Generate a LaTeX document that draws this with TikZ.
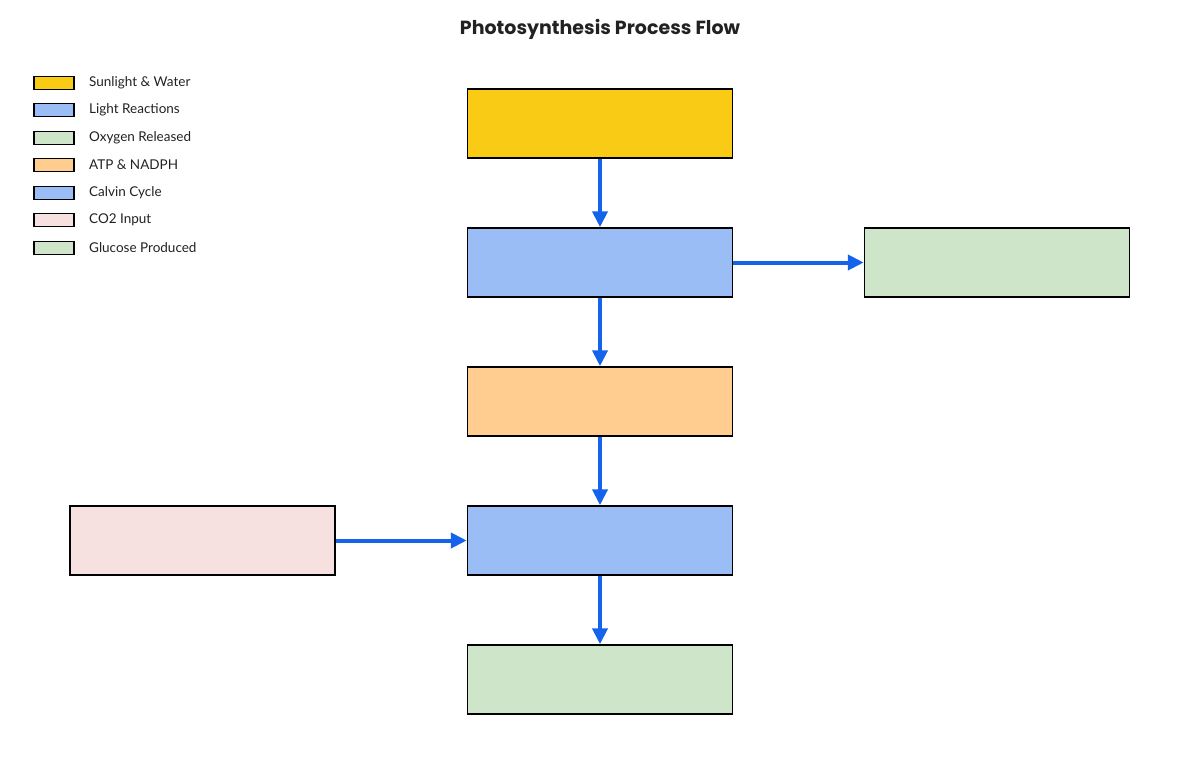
\documentclass[tikz,border=0pt]{standalone}
\usepackage{fontspec}
\setmainfont{Lato}
\newfontfamily\titlefont{Poppins}
\usetikzlibrary{arrows.meta}
\definecolor{cyel}{HTML}{F9CB14}
\definecolor{cblue}{HTML}{9BBDF5}
\definecolor{cgreen}{HTML}{CFE5C9}
\definecolor{corange}{HTML}{FECD8F}
\definecolor{cpink}{HTML}{F7E0E0}
\definecolor{carrow}{HTML}{1463EA}
\definecolor{ctext}{HTML}{222222}
\begin{document}
\begin{tikzpicture}[x=1pt,y=-1pt,
  box/.style={draw=black,line width=1.5pt,minimum width=265pt,minimum height=69pt,inner sep=0pt},
  sw/.style={draw=black,line width=1.2pt,minimum width=40pt,minimum height=13pt,inner sep=0pt},
  lt/.style={anchor=west,font=\fontsize{13.5}{16}\selectfont,text=ctext,inner sep=0pt},
  arr/.style={carrow,line width=4pt,-{Triangle[length=16pt,width=15pt]}}]
\useasboundingbox (0,0) rectangle (1200,763);
\node[font=\titlefont\bfseries\fontsize{19}{22}\selectfont,text=ctext] (title) at (600,29) {Photosynthesis Process Flow};
\node[box,fill=cyel] (a) at (600,123.5) {};
\node[box,fill=cblue] (b) at (600,262.5) {};
\node[box,fill=cgreen] (o) at (997,262.5) {};
\node[box,fill=corange] (c) at (600,401.5) {};
\node[box,fill=cblue] (d) at (600,540.5) {};
\node[box,fill=cpink] (p) at (202.5,540.5) {};
\node[box,fill=cgreen] (e) at (600,679.5) {};
\draw[arr] (a) -- (b);
\draw[arr] (b) -- (o);
\draw[arr] (b) -- (c);
\draw[arr] (c) -- (d);
\draw[arr] (p) -- (d);
\draw[arr] (d) -- (e);
\foreach \y/\c/\t [count=\i] in {83/cyel/Sunlight \& Water,110/cblue/Light Reactions,138/cgreen/Oxygen Released,165/corange/ATP \& NADPH,193/cblue/Calvin Cycle,220/cpink/CO2 Input,248/cgreen/Glucose Produced}{
  \node[sw,fill=\c] (s\i) at (54,\y) {};
  \node[lt] (l\i) at (89,\y) {\t};
}
\end{tikzpicture}
\end{document}
